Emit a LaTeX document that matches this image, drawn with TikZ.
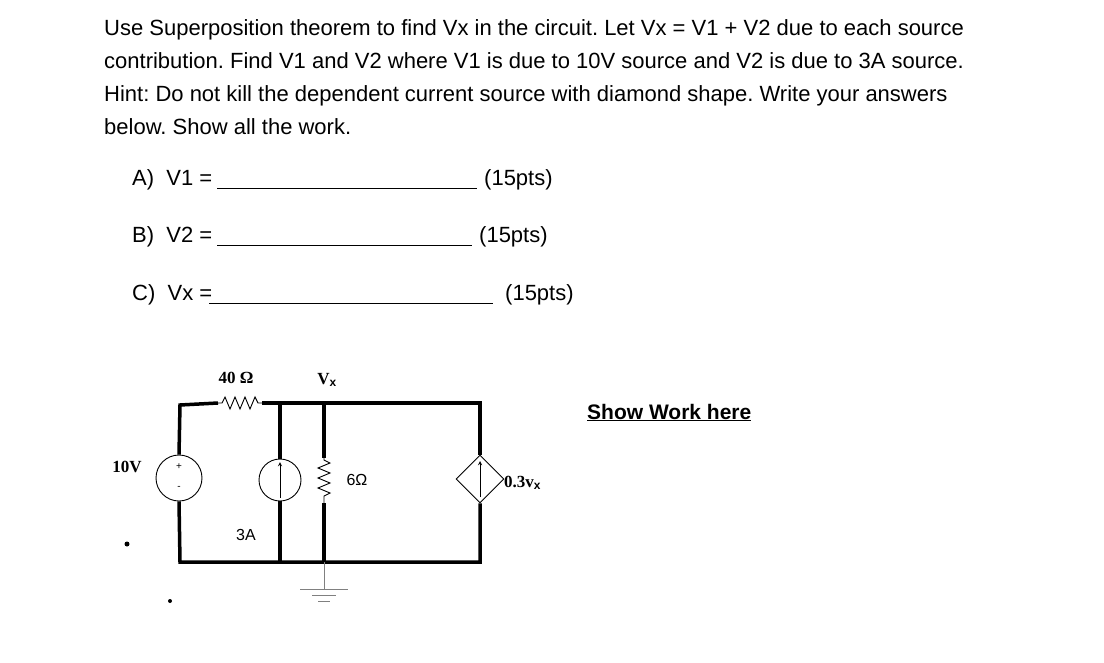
\documentclass[tikz,border=0pt]{standalone}
\usepackage{fontspec}
\setmainfont{Liberation Sans}
\newfontfamily\tms{Liberation Serif}
\usetikzlibrary{shapes.geometric}
\begin{document}
\frenchspacing
\begin{tikzpicture}[x=1pt,y=-1pt,
  txt/.style={anchor=base west,inner sep=0pt,font=\fontsize{22}{24}\selectfont},
  lbl/.style={inner sep=0pt,font=\tms\bfseries\fontsize{17}{19}\selectfont},
  wire/.style={line width=3.5pt},
  thin/.style={line width=0.9pt}]
\useasboundingbox (0,0) rectangle (1104,662);
\fill[white] (0,0) rectangle (1104,662);
\node[txt] (l1) at (104,35) {Use Superposition theorem to find Vx in the circuit. Let Vx = V1 + V2 due to each source};
\node[txt] (l2) at (104,68) {contribution. Find V1 and V2 where V1 is due to 10V source and V2 is due to 3A source.};
\node[txt] (l3) at (104,101) {Hint: Do not kill the dependent current source with diamond shape. Write your answers};
\node[txt] (l4) at (104,134) {below. Show all the work.};
\node[txt] (a) at (132,185) {A)\ \ V1 =};
\draw[thin] (217,188) -- (477,188);
\node[txt] (ap) at (484,185) {(15pts)};
\node[txt] (b) at (132,242) {B)\ \ V2 =};
\draw[thin] (217,245) -- (472,245);
\node[txt] (bp) at (479,242) {(15pts)};
\node[txt] (c) at (132,300) {C)\ \ Vx =};
\draw[thin] (209,303) -- (493,303);
\node[txt] (cp) at (505,300) {(15pts)};
% circuit
\node[circle,draw,thin,minimum size=46pt,inner sep=0pt] (vs) at (179,478) {};
\node[font=\fontsize{10}{10}\selectfont] (vp) at (179,467) {+};
\node[font=\fontsize{10}{10}\selectfont] (vm) at (179,488) {-};
\node[circle,draw,thin,minimum size=42pt,inner sep=0pt] (cs) at (280,480) {};
\node[diamond,draw,thin,minimum size=48pt,inner sep=0pt] (ds) at (480,479) {};
\coordinate (tl) at (180,405);
\coordinate (r1a) at (218,403);
\coordinate (r1b) at (262,403);
\coordinate (tr) at (480,403);
\coordinate (bl) at (180,562);
\coordinate (br) at (480,562);
\coordinate (g) at (324,562);
\draw[wire] (vs.north) -- (tl) -- (r1a);
\draw[thin] (r1a) -- ++(4,0) -- ++(3,-6) -- ++(5,12) -- ++(5,-12) -- ++(5,12) -- ++(5,-12) -- ++(5,12) -- ++(5,-12) -- ++(3,6) -- (r1b);
\draw[wire] (r1b) -- (tr) -- (ds.north);
\draw[wire] (ds.south) -- (br) -- (bl) -- (vs.south);
\draw[wire] (280,403) -- (cs.north);
\draw[wire] (cs.south) -- (280,562);
\draw[thin,-stealth] (280,498) -- (280,462);
\draw[thin,-stealth] (480,497) -- (480,461);
\draw[wire] (324,403) -- (324,458);
\draw[thin] (324,458) -- ++(0,2) -- ++(6,3) -- ++(-12,5) -- ++(12,5) -- ++(-12,5) -- ++(12,5) -- ++(-12,5) -- ++(12,5) -- ++(-6,3) -- (324,503);
\draw[wire] (324,503) -- (g);
\draw[thin,gray] (g) -- (324,589);
\draw[thin,gray] (300,589) -- (348,589);
\draw[thin,gray] (312,595) -- (336,595);
\draw[thin,gray] (318,601) -- (330,601);
\node[lbl] (t40) at (236,378) {40 Ω};
\node[lbl] (tvx) at (327,380) {V$_{\mathbf x}$};
\node[lbl] (t10) at (127,467) {10V};
\node[lbl,font=\fontsize{16}{18}\selectfont] (t6) at (357,480) {6Ω};
\node[lbl,font=\fontsize{16}{18}\selectfont] (t3) at (246,535) {3A};
\node[lbl,anchor=west] (t03) at (504,483) {0.3v$_{\mathbf x}$};
\fill (127,544) circle (2.5);
\fill (170,601) circle (2);
\node[anchor=base west,inner sep=0pt,font=\bfseries\fontsize{21}{23}\selectfont] (sw) at (587,419) {\underline{Show Work here}};
\end{tikzpicture}
\end{document}
